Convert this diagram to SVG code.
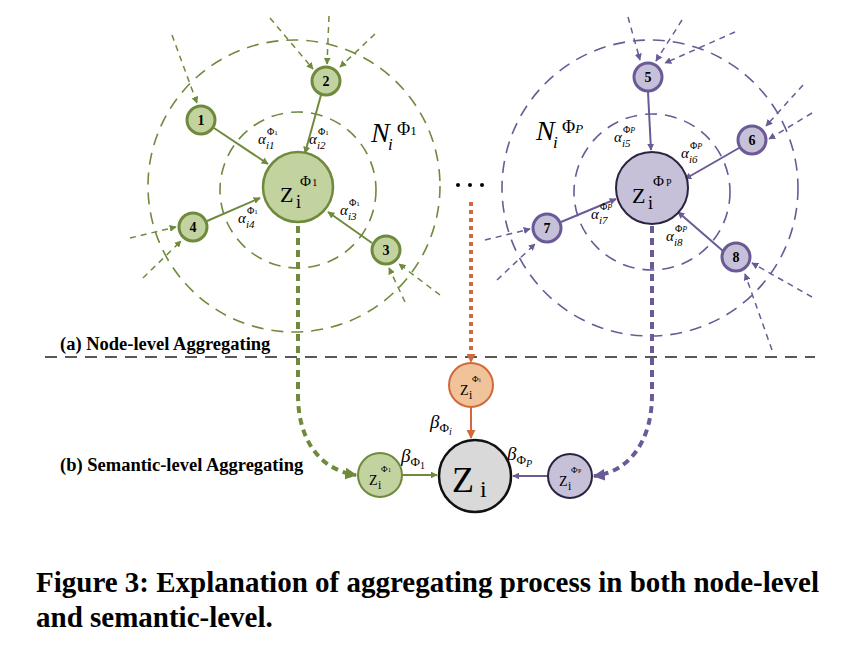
<svg xmlns="http://www.w3.org/2000/svg" width="866" height="651" viewBox="0 0 866 651">
<defs>
<marker id="ag" viewBox="0 0 10 10" refX="9" refY="5" markerWidth="7" markerHeight="7" orient="auto" markerUnits="userSpaceOnUse"><path d="M0,0L10,5L0,10z" fill="#6f8a3c"/></marker>
<marker id="ap" viewBox="0 0 10 10" refX="9" refY="5" markerWidth="7" markerHeight="7" orient="auto" markerUnits="userSpaceOnUse"><path d="M0,0L10,5L0,10z" fill="#6a5a96"/></marker>
<marker id="ao" viewBox="0 0 10 10" refX="9" refY="5" markerWidth="9" markerHeight="9" orient="auto" markerUnits="userSpaceOnUse"><path d="M0,0L10,5L0,10z" fill="#d2693a"/></marker>
<marker id="agb" viewBox="0 0 10 10" refX="9" refY="5" markerWidth="12" markerHeight="12" orient="auto" markerUnits="userSpaceOnUse"><path d="M0,0L10,5L0,10z" fill="#6f8a3c"/></marker>
<marker id="apb" viewBox="0 0 10 10" refX="9" refY="5" markerWidth="12" markerHeight="12" orient="auto" markerUnits="userSpaceOnUse"><path d="M0,0L10,5L0,10z" fill="#6a5a96"/></marker>
</defs>
<style>
text{font-family:"Liberation Serif",serif;}
.g{fill:#c3d3a0;stroke:#6f8a3c;stroke-width:3}
.p{fill:#c6c0d8;stroke:#6a5a96;stroke-width:3}
.ring{fill:none;stroke-width:1.6;stroke-dasharray:12 8}
.rg{stroke:#6f8a3c}.rp{stroke:#6a5a96}
.eg{stroke:#6f8a3c;stroke-width:2;fill:none;marker-end:url(#ag)}
.ep{stroke:#6a5a96;stroke-width:2;fill:none;marker-end:url(#ap)}
.dg{stroke:#6f8a3c;stroke-width:1.5;stroke-dasharray:6 5;fill:none;marker-end:url(#ag)}
.dp{stroke:#6a5a96;stroke-width:1.5;stroke-dasharray:6 5;fill:none;marker-end:url(#ap)}
.num{font-size:14px;font-weight:bold;text-anchor:middle}
.a{font-size:15px;font-style:italic}
.sp{font-size:10px}
.sb{font-size:11px;font-style:italic}
</style>
<g id="rings">
<circle class="ring rg" cx="294" cy="186" r="146"/>
<circle class="ring rg" cx="298" cy="190" r="78"/>
<circle class="ring rp" cx="650" cy="188" r="148"/>
<circle class="ring rp" cx="652" cy="192" r="78"/>
</g>
<g id="connectors">
<line class="eg" x1="214" y1="128" x2="268" y2="164"/>
<line class="eg" x1="321" y1="95" x2="305" y2="153"/>
<line class="eg" x1="372" y1="243" x2="328" y2="212"/>
<line class="eg" x1="207" y1="221" x2="260" y2="198"/>
<line class="dg" x1="172" y1="35" x2="197" y2="103"/>
<line class="dg" x1="270" y1="18" x2="313" y2="69"/>
<line class="dg" x1="329" y1="16" x2="327" y2="64"/>
<line class="dg" x1="375" y1="34" x2="340" y2="67"/>
<line class="dg" x1="130" y1="238" x2="176" y2="227"/>
<line class="dg" x1="143" y1="278" x2="181" y2="241"/>
<line class="dg" x1="440" y1="295" x2="399" y2="264"/>
<line class="dg" x1="405" y1="302" x2="389" y2="268"/>
<line class="ep" x1="648" y1="92" x2="651" y2="150"/>
<line class="ep" x1="739" y1="148" x2="685" y2="179"/>
<line class="ep" x1="561" y1="222" x2="616" y2="199"/>
<line class="ep" x1="723" y1="251" x2="678" y2="212"/>
<line class="dp" x1="628" y1="17" x2="640" y2="60"/>
<line class="dp" x1="682" y1="20" x2="656" y2="61"/>
<line class="dp" x1="735" y1="32" x2="665" y2="63"/>
<line class="dp" x1="803" y1="85" x2="766" y2="126"/>
<line class="dp" x1="812" y1="113" x2="769" y2="139"/>
<line class="dp" x1="485" y1="240" x2="530" y2="229"/>
<line class="dp" x1="497" y1="280" x2="535" y2="244"/>
<line class="dp" x1="812" y1="297" x2="752" y2="263"/>
<line class="dp" x1="772" y1="350" x2="745" y2="274"/>
<line x1="45" y1="357" x2="815" y2="357" stroke="#222" stroke-width="1.6" stroke-dasharray="12 8"/>
<line x1="471" y1="202" x2="471" y2="362" stroke="#d2693a" stroke-width="4" stroke-dasharray="4 4" marker-end="url(#ao)"/>
<path d="M298,226 L298,395 C298,440 320,470 356,475" stroke="#6f8a3c" stroke-width="4" stroke-dasharray="7 5" fill="none" marker-end="url(#agb)"/>
<path d="M652,226 L652,395 C652,440 630,472 594,476" stroke="#6a5a96" stroke-width="4" stroke-dasharray="7 5" fill="none" marker-end="url(#apb)"/>
<line x1="471" y1="407" x2="471" y2="438" stroke="#d2693a" stroke-width="2" marker-end="url(#ao)"/>
<line x1="402" y1="475" x2="437" y2="475" class="eg"/>
<line x1="548" y1="476" x2="513" y2="476" class="ep"/>
</g>
<g id="n1"><circle class="g" cx="201" cy="120" r="14"/><text class="num" x="201" y="125">1</text></g>
<g id="n2"><circle class="g" cx="326" cy="81" r="14"/><text class="num" x="326" y="86">2</text></g>
<g id="n3"><circle class="g" cx="386" cy="250" r="14"/><text class="num" x="386" y="255">3</text></g>
<g id="n4"><circle class="g" cx="193" cy="227" r="14"/><text class="num" x="193" y="232">4</text></g>
<g id="z1"><circle fill="#c3d3a0" stroke="#6f8a3c" stroke-width="2.5" cx="298" cy="187" r="35"/>
<text x="280" y="202" font-size="22">Z</text><text x="296" y="208" font-size="18">i</text><text x="300" y="186" font-size="15">Φ</text><text x="312" y="186" font-size="11">1</text></g>
<g id="n5"><circle class="p" cx="648" cy="77" r="14"/><text class="num" x="648" y="82">5</text></g>
<g id="n6"><circle class="p" cx="752" cy="140" r="14"/><text class="num" x="752" y="145">6</text></g>
<g id="n7"><circle class="p" cx="547" cy="228" r="14"/><text class="num" x="547" y="233">7</text></g>
<g id="n8"><circle class="p" cx="736" cy="257" r="14"/><text class="num" x="736" y="262">8</text></g>
<g id="zp"><circle fill="#c6c0d8" stroke="#2b2440" stroke-width="2" cx="652" cy="188" r="36"/>
<text x="632" y="203" font-size="22">Z</text><text x="648" y="209" font-size="18">i</text><text x="653" y="186" font-size="15">Φ</text><text x="666" y="186" font-size="10">P</text></g>
<g id="labels">
<text class="a" x="258" y="144">α</text><text class="sp" x="267" y="135">Φ<tspan font-size="7">1</tspan></text><text class="sb" x="266" y="149">i1</text>
<text class="a" x="309" y="144">α</text><text class="sp" x="318" y="135">Φ<tspan font-size="7">1</tspan></text><text class="sb" x="317" y="149">i2</text>
<text class="a" x="340" y="215">α</text><text class="sp" x="349" y="206">Φ<tspan font-size="7">1</tspan></text><text class="sb" x="348" y="220">i3</text>
<text class="a" x="238" y="223">α</text><text class="sp" x="247" y="214">Φ<tspan font-size="7">1</tspan></text><text class="sb" x="246" y="228">i4</text>
<text class="a" x="614" y="142">α</text><text class="sp" x="623" y="133">Φ<tspan font-size="8" font-style="italic">P</tspan></text><text class="sb" x="622" y="147">i5</text>
<text class="a" x="681" y="158">α</text><text class="sp" x="690" y="149">Φ<tspan font-size="8" font-style="italic">P</tspan></text><text class="sb" x="689" y="163">i6</text>
<text class="a" x="591" y="219">α</text><text class="sp" x="600" y="210">Φ<tspan font-size="8" font-style="italic">P</tspan></text><text class="sb" x="599" y="224">i7</text>
<text class="a" x="666" y="241">α</text><text class="sp" x="675" y="232">Φ<tspan font-size="8" font-style="italic">P</tspan></text><text class="sb" x="674" y="246">i8</text>
<text x="371" y="142" font-size="28" font-style="italic">N</text><text x="388" y="150" font-size="17" font-style="italic">i</text><text x="397" y="135" font-size="18">Φ<tspan font-size="13">1</tspan></text>
<text x="536" y="140" font-size="28" font-style="italic">N</text><text x="553" y="148" font-size="17" font-style="italic">i</text><text x="562" y="133" font-size="18">Φ<tspan font-size="13" font-style="italic">P</tspan></text>
<circle cx="458" cy="185" r="2"/><circle cx="470" cy="185" r="2"/><circle cx="482" cy="185" r="2"/>
<text x="60" y="350" font-size="18.5" font-weight="bold">(a) Node-level Aggregating</text>
<text x="60" y="471" font-size="18.5" font-weight="bold">(b) Semantic-level Aggregating</text>
<text x="430" y="428" font-size="19" font-style="italic">β<tspan font-size="13" font-style="normal" dy="4">Φ</tspan><tspan font-size="10" dy="3">i</tspan></text>
<text x="401" y="462" font-size="19" font-style="italic">β<tspan font-size="13" font-style="normal" dy="4">Φ</tspan><tspan font-size="10" font-style="normal" dy="3">1</tspan></text>
<text x="507" y="460" font-size="19" font-style="italic">β<tspan font-size="13" font-style="normal" dy="4">Φ</tspan><tspan font-size="10" dy="3">P</tspan></text>
<text x="36" y="592" font-size="29" font-weight="bold">Figure 3: Explanation of aggregating process in both node-level</text>
<text x="36" y="627" font-size="29" font-weight="bold">and semantic-level.</text>
</g>
<g id="zo"><circle fill="#f0c39a" stroke="#d2693a" stroke-width="2" cx="471" cy="385" r="22"/>
<text x="460" y="395" font-size="14">Z</text><text x="469" y="399" font-size="12">i</text><text x="472" y="382" font-size="9">Φ</text><text x="479" y="382" font-size="6">i</text></g>
<g id="zg"><circle fill="#c3d3a0" stroke="#6f8a3c" stroke-width="2" cx="380" cy="475" r="22"/>
<text x="369" y="485" font-size="14">Z</text><text x="378" y="489" font-size="12">i</text><text x="381" y="472" font-size="9">Φ</text><text x="388" y="472" font-size="6">1</text></g>
<g id="zpp"><circle fill="#c6c0d8" stroke="#2b2440" stroke-width="2" cx="570" cy="476" r="22"/>
<text x="559" y="486" font-size="14">Z</text><text x="568" y="490" font-size="12">i</text><text x="571" y="473" font-size="9">Φ</text><text x="578" y="473" font-size="6">P</text></g>
<g id="zi"><circle fill="#d9d9d9" stroke="#111" stroke-width="2.5" cx="475" cy="476" r="36"/>
<text x="452" y="492" font-size="36">Z</text><text x="480" y="497" font-size="24">i</text></g>
</svg>
